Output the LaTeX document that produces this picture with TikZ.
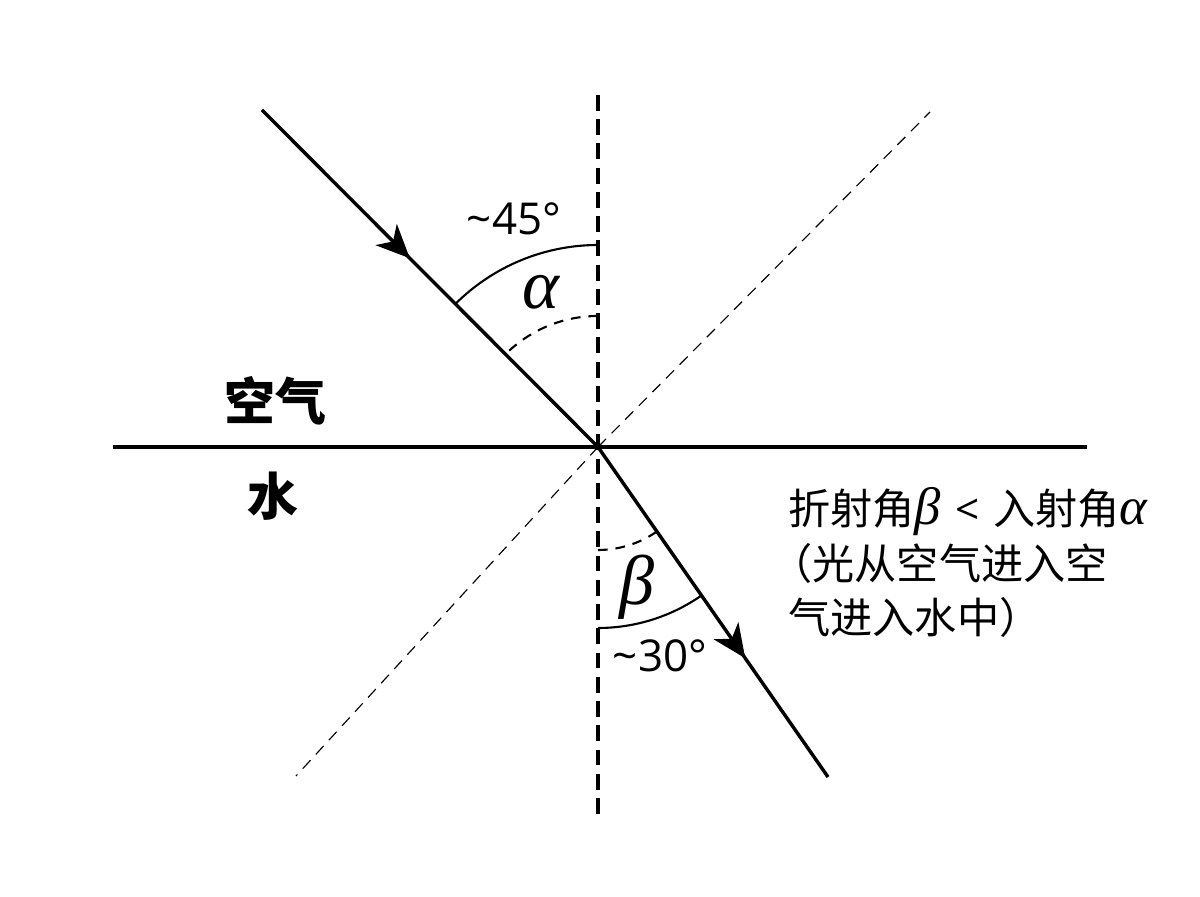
\documentclass[tikz,border=0pt]{standalone}
\usepackage{fontspec}
\setmainfont{Open Sans}
\newfontfamily\cjk{Noto Sans CJK SC}
\newfontfamily\grk{Liberation Serif}
\usetikzlibrary{arrows.meta,decorations.markings}
\begin{document}
\begin{tikzpicture}[x=0.02cm,y=0.02cm,
  ray/.style={line width=1.95pt},
  normalline/.style={line width=1.8pt, dash pattern=on 9pt off 4.8pt},
  guide/.style={line width=0.65pt, dash pattern=on 6.5pt off 4.5pt},
  arcline/.style={line width=1.2pt},
  arcdash/.style={line width=1.2pt, dash pattern=on 5.5pt off 4.5pt},
  midarrow/.style={postaction={decorate, decoration={markings,
     mark=at position #1 with {\arrow{Stealth[length=19pt,width=17pt,inset=5.5pt]}}}}},
  lbl/.style={inner sep=0pt, font=\fontsize{25}{30}\selectfont},
  greek/.style={inner sep=0pt, font=\grk\itshape\fontsize{40}{44}\selectfont},
  medium/.style={inner sep=0pt, font=\cjk\bfseries\fontsize{29}{34}\selectfont},
  note/.style={inner sep=0pt, anchor=base west, font=\cjk\fontsize{24}{28}\selectfont}
]
\useasboundingbox (0,0) rectangle (1200,896);
\fill[white] (0,0) rectangle (1200,896);
% key points
\coordinate (O) at (598,449);
\coordinate (inc) at (262,786);
\coordinate (ref) at (828,119);
\coordinate (ntop) at (598,801);
\coordinate (nbot) at (598,81);
\coordinate (sl) at (113,449);
\coordinate (sr) at (1087,449);
\coordinate (ga) at (930,784);
\coordinate (gb) at (296,120);
% guide line (extension of incident ray)
\draw[guide] (O) -- (ga);
\draw[guide] (O) -- (gb);
% normal
\draw[normalline] (ntop) -- (nbot);
% surface
\draw[ray] (sl) -- (sr);
% rays
\draw[ray, midarrow=0.44] (inc) -- (O);
\draw[ray, midarrow=0.64] (O) -- (ref);
% angle arcs
\draw[arcline] ([shift={(0,202)}]O) arc[start angle=90, end angle=135, radius=4.04cm];
\draw[arcdash] ([shift={(0,131)}]O) arc[start angle=90, end angle=135, radius=2.62cm];
\draw[arcline] ([shift={(0,-181)}]O) arc[start angle=270, end angle=304.9, radius=3.62cm];
\draw[arcdash] ([shift={(0,-103)}]O) arc[start angle=270, end angle=304.9, radius=2.06cm];
% labels
\node[lbl] (a45) at (514,677) {\textasciitilde45°};
\node[greek] (alpha) at (541,604) {α};
\node[greek] (beta) at (637,309) {β};
\node[lbl] (b30) at (660,240) {\textasciitilde30°};
\node[medium] (air) at (275,495) {空气};
\node[medium] (water) at (273,400) {水};
\node[note] (l1) at (788,371) {折射角{\grk\itshape\fontsize{30}{30}\selectfont β}\hspace{8pt}{\rmfamily\fontsize{24}{28}\selectfont<}\hspace{8pt}入射角{\grk\itshape\fontsize{30}{30}\selectfont α}};
\node[note] (l2) at (770,316) {（光从空气进入空};
\node[note] (l3) at (788,262) {气进入水中）};
\end{tikzpicture}
\end{document}
